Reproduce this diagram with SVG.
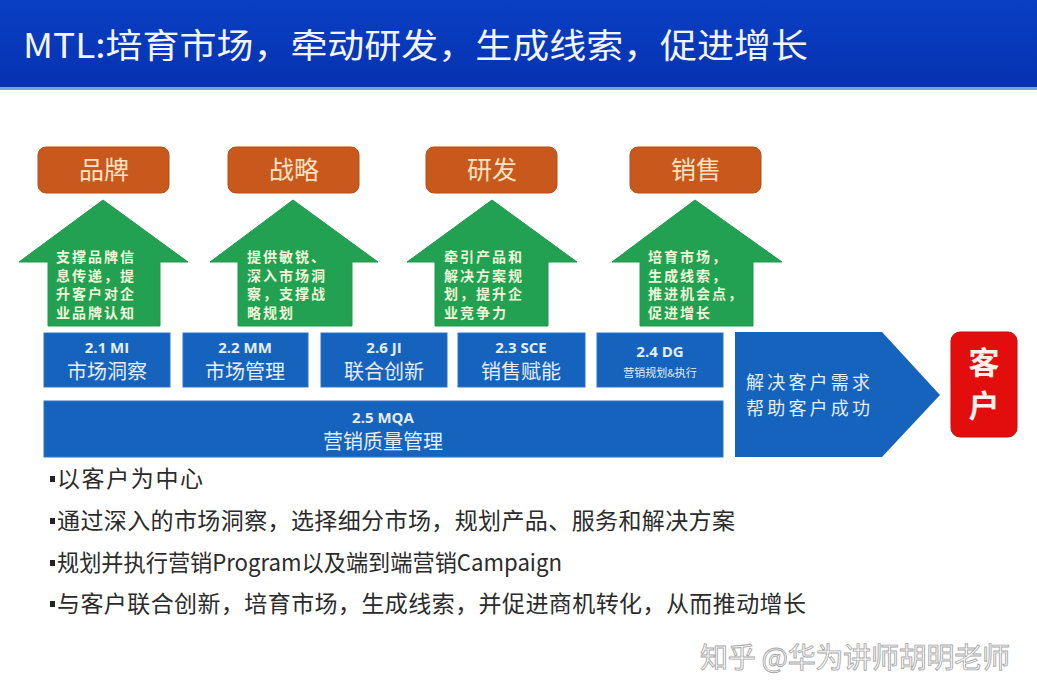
<svg xmlns="http://www.w3.org/2000/svg" width="1037" height="700" viewBox="0 0 1037 700">
<defs>
<linearGradient id="tg" x1="0" y1="0" x2="0" y2="1">
<stop offset="0" stop-color="#0a3fc4"/>
<stop offset="1" stop-color="#0532b0"/>
</linearGradient>
</defs>
<style>
.cjk{font-family:"Noto Sans CJK SC","Liberation Sans",sans-serif}
.org rect{fill:#c9581c;stroke:#b84c16;stroke-width:1}
.org text{fill:#fbe3c4;font-size:25px;text-anchor:middle}
.arr polygon{fill:#22a152;stroke:#1f9a4b;stroke-width:1}
.arr text{fill:#eef7d8;font-size:14px;font-weight:bold;letter-spacing:2px}
.blu rect{fill:#1663bd;stroke:#2a74c8;stroke-width:1}
.blu .t1{fill:#e4eefa;font-size:15px;font-weight:bold;text-anchor:middle;font-family:"Open Sans","Liberation Sans",sans-serif}
.blu .t2{fill:#e4eefa;font-size:20px;text-anchor:middle}
.blt text{fill:#2b2b2b;font-size:23px}
.blt rect{fill:#222}
</style>
<rect x="0" y="0" width="1037" height="700" fill="#ffffff"/>
<g id="title">
<rect x="0" y="0" width="1037" height="88" fill="url(#tg)"/>
<rect x="0" y="87" width="1037" height="3" fill="#6fa6e8"/>
<text class="cjk" x="23" y="58" font-size="34" fill="#f2f5ff" textLength="785" lengthAdjust="spacingAndGlyphs">MTL:培育市场，牵动研发，生成线索，促进增长</text>
</g>
<g id="brand" class="org cjk"><rect x="38" y="147" width="131" height="46" rx="8"/><text x="104" y="179">品牌</text></g>
<g id="strategy" class="org cjk"><rect x="228" y="147" width="131" height="46" rx="8"/><text x="294" y="179">战略</text></g>
<g id="rnd" class="org cjk"><rect x="426" y="147" width="131" height="46" rx="8"/><text x="492" y="179">研发</text></g>
<g id="sales" class="org cjk"><rect x="630" y="147" width="131" height="46" rx="8"/><text x="696" y="179">销售</text></g>
<g id="arrow-brand" class="arr cjk">
<polygon points="103,200 188,262 160,262 160,326 48,326 48,262 19,262"/>
<text x="56" y="262">支撑品牌信</text><text x="56" y="281">息传递，提</text><text x="56" y="299">升客户对企</text><text x="56" y="318">业品牌认知</text>
</g>
<g id="arrow-strategy" class="arr cjk">
<polygon points="293,200 378,262 352,262 352,326 238,326 238,262 210,262"/>
<text x="247" y="262">提供敏锐、</text><text x="247" y="281">深入市场洞</text><text x="247" y="299">察，支撑战</text><text x="247" y="318">略规划</text>
</g>
<g id="arrow-rnd" class="arr cjk">
<polygon points="492,200 577,262 548,262 548,326 435,326 435,262 407,262"/>
<text x="444" y="262">牵引产品和</text><text x="444" y="281">解决方案规</text><text x="444" y="299">划，提升企</text><text x="444" y="318">业竞争力</text>
</g>
<g id="arrow-sales" class="arr cjk">
<polygon points="695,200 782,262 753,262 753,326 640,326 640,262 612,262"/>
<text x="648" y="262">培育市场，</text><text x="648" y="281">生成线索，</text><text x="648" y="299" letter-spacing="0.5">推进机会点，</text><text x="648" y="318">促进增长</text>
</g>
<g id="mi" class="blu cjk"><rect x="44" y="333" width="126" height="54"/><text class="t1" x="107" y="353">2.1 MI</text><text class="t2" x="107" y="379">市场洞察</text></g>
<g id="mm" class="blu cjk"><rect x="183" y="333" width="125" height="54"/><text class="t1" x="245" y="353">2.2 MM</text><text class="t2" x="245" y="379">市场管理</text></g>
<g id="ji" class="blu cjk"><rect x="321" y="333" width="126" height="54"/><text class="t1" x="384" y="353">2.6 JI</text><text class="t2" x="384" y="379">联合创新</text></g>
<g id="sce" class="blu cjk"><rect x="458" y="333" width="127" height="54"/><text class="t1" x="521" y="353">2.3 SCE</text><text class="t2" x="521" y="379">销售赋能</text></g>
<g id="dg" class="blu cjk"><rect x="597" y="333" width="126" height="54"/><text class="t1" x="660" y="357">2.4 DG</text><text x="660" y="377" font-size="11" fill="#e4eefa" text-anchor="middle">营销规划&amp;执行</text></g>
<g id="mqa" class="blu cjk"><rect x="44" y="401" width="679" height="56"/><text class="t1" x="383" y="423">2.5 MQA</text><text class="t2" x="383" y="449">营销质量管理</text></g>
<g id="solve" class="blu cjk">
<polygon points="735,332 882,332 940,395 882,457 735,457" fill="#1663bd"/>
<text x="746" y="389" font-size="18" fill="#e4eefa" textLength="124">解决客户需求</text>
<text x="746" y="415" font-size="18" fill="#e4eefa" textLength="124">帮助客户成功</text>
</g>
<g id="customer" class="cjk">
<rect x="951" y="332" width="66" height="105" rx="9" fill="#e20e0e" stroke="#c90808"/>
<text x="984" y="374" font-size="31" font-weight="bold" fill="#fff0ea" text-anchor="middle">客</text>
<text x="984" y="417" font-size="31" font-weight="bold" fill="#fff0ea" text-anchor="middle">户</text>
</g>
<g id="connectors"></g>
<g id="bullets" class="blt cjk">
<rect x="50" y="476" width="5" height="6"/><text x="57" y="487" textLength="146">以客户为中心</text>
<rect x="50" y="518" width="5" height="6"/><text x="57" y="529" textLength="678">通过深入的市场洞察，选择细分市场，规划产品、服务和解决方案</text>
<rect x="50" y="560" width="5" height="6"/><text x="57" y="571" textLength="505" lengthAdjust="spacingAndGlyphs">规划并执行营销Program以及端到端营销Campaign</text>
<rect x="50" y="601" width="5" height="6"/><text x="57" y="612" textLength="749">与客户联合创新，培育市场，生成线索，并促进商机转化，从而推动增长</text>
</g>
<g id="watermark" class="cjk">
<text x="700" y="668" font-size="28" fill="#ffffff" stroke="#a8a8a8" stroke-width="0.9" textLength="310">知乎 @华为讲师胡明老师</text>
</g>
</svg>
